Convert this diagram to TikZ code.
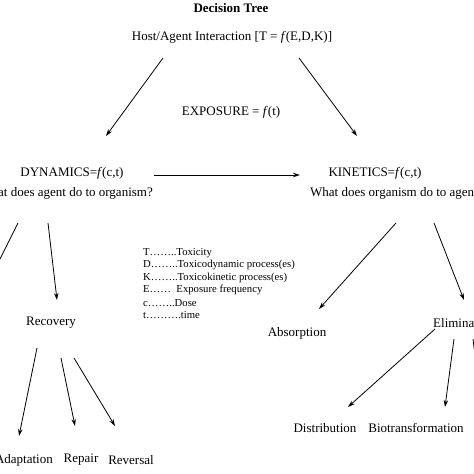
\documentclass[tikz,border=0pt]{standalone}
\usepackage{fontspec}
\setmainfont{Liberation Serif}
\usetikzlibrary{arrows.meta}
\begin{document}
\begin{tikzpicture}[x=1pt,y=-1pt,
  lbl/.style={inner sep=0pt,font=\fontsize{13}{15}\selectfont},
  leg/.style={inner sep=0pt,anchor=west,font=\fontsize{10.7}{12}\selectfont},
  arr/.style={-{Stealth[length=7pt,width=4.5pt]},line width=0.8pt}]
\useasboundingbox (0,0) rectangle (474,474);
\clip (0,0) rectangle (474,474);
\node[lbl,font=\fontsize{13}{15}\selectfont\bfseries] (title) at (231,8) {Decision Tree};
\node[lbl] (host) at (232,37) {Host/Agent Interaction [T = \textit{f}(E,D,K)]};
\node[lbl] (expo) at (231,112) {EXPOSURE = \textit{f}(t)};
\node[lbl] (dyn) at (72,173) {DYNAMICS=\textit{f}(c,t)};
\node[lbl] (kin) at (375,173) {KINETICS=\textit{f}(c,t)};
\node[lbl,anchor=east] (dynq) at (153,193) {What does agent do to organism?};
\node[lbl,anchor=west] (kinq) at (310,193) {What does organism do to agent?};
\node[lbl] (rec) at (51,323) {Recovery};
\node[lbl] (abs) at (297,333) {Absorption};
\node[lbl,anchor=west] (elim) at (433,323) {Elimination};
\node[lbl,anchor=east] (adapt) at (53,460) {Adaptation};
\node[lbl] (rep) at (81,460) {Repair};
\node[lbl] (rev) at (131,460) {Reversal};
\node[lbl] (dist) at (325,428) {Distribution};
\node[lbl] (bio) at (416,428) {Biotransformation};
\node[leg] (l1) at (143,253) {T……..Toxicity};
\node[leg] (l2) at (143,265.4) {D……..Toxicodynamic process(es)};
\node[leg] (l3) at (143,277.8) {K……..Toxicokinetic process(es)};
\node[leg] (l4) at (143,290.2) {E……\ \ Exposure frequency};
\node[leg] (l5) at (143,302.6) {c……..Dose};
\node[leg] (l6) at (143,315) {t……….time};
% connector end points
\coordinate (h1) at (163,58);  \coordinate (d0) at (106,136);
\coordinate (h2) at (299,58);  \coordinate (k0) at (357,136);
\coordinate (dk1) at (154,175); \coordinate (dk2) at (300,175);
\coordinate (q1) at (18,223);  \coordinate (q1e) at (-12,283);
\coordinate (q2) at (48,223);  \coordinate (rec0) at (57,300);
\coordinate (k1) at (396,223); \coordinate (abs0) at (319,309);
\coordinate (k2) at (434,223); \coordinate (el0) at (464,300);
\coordinate (r1) at (37,348);  \coordinate (ad0) at (19,436);
\coordinate (r2) at (61,358);  \coordinate (rep0) at (75,426);
\coordinate (r3) at (74,358);  \coordinate (rev0) at (115,426);
\coordinate (e1) at (435,329); \coordinate (di0) at (348,407);
\coordinate (e2) at (454,339); \coordinate (bi0) at (445,407);
\coordinate (e3) at (473,339); \coordinate (ex0) at (478,380);
\draw[arr] (h1) -- (d0);
\draw[arr] (h2) -- (k0);
\draw[arr] (dk1) -- (dk2);
\draw[arr] (q1) -- (q1e);
\draw[arr] (q2) -- (rec0);
\draw[arr] (k1) -- (abs0);
\draw[arr] (k2) -- (el0);
\draw[arr] (r1) -- (ad0);
\draw[arr] (r2) -- (rep0);
\draw[arr] (r3) -- (rev0);
\draw[arr] (e1) -- (di0);
\draw[arr] (e2) -- (bi0);
\draw[line width=0.8pt] (e3) -- (ex0);
\end{tikzpicture}
\end{document}
